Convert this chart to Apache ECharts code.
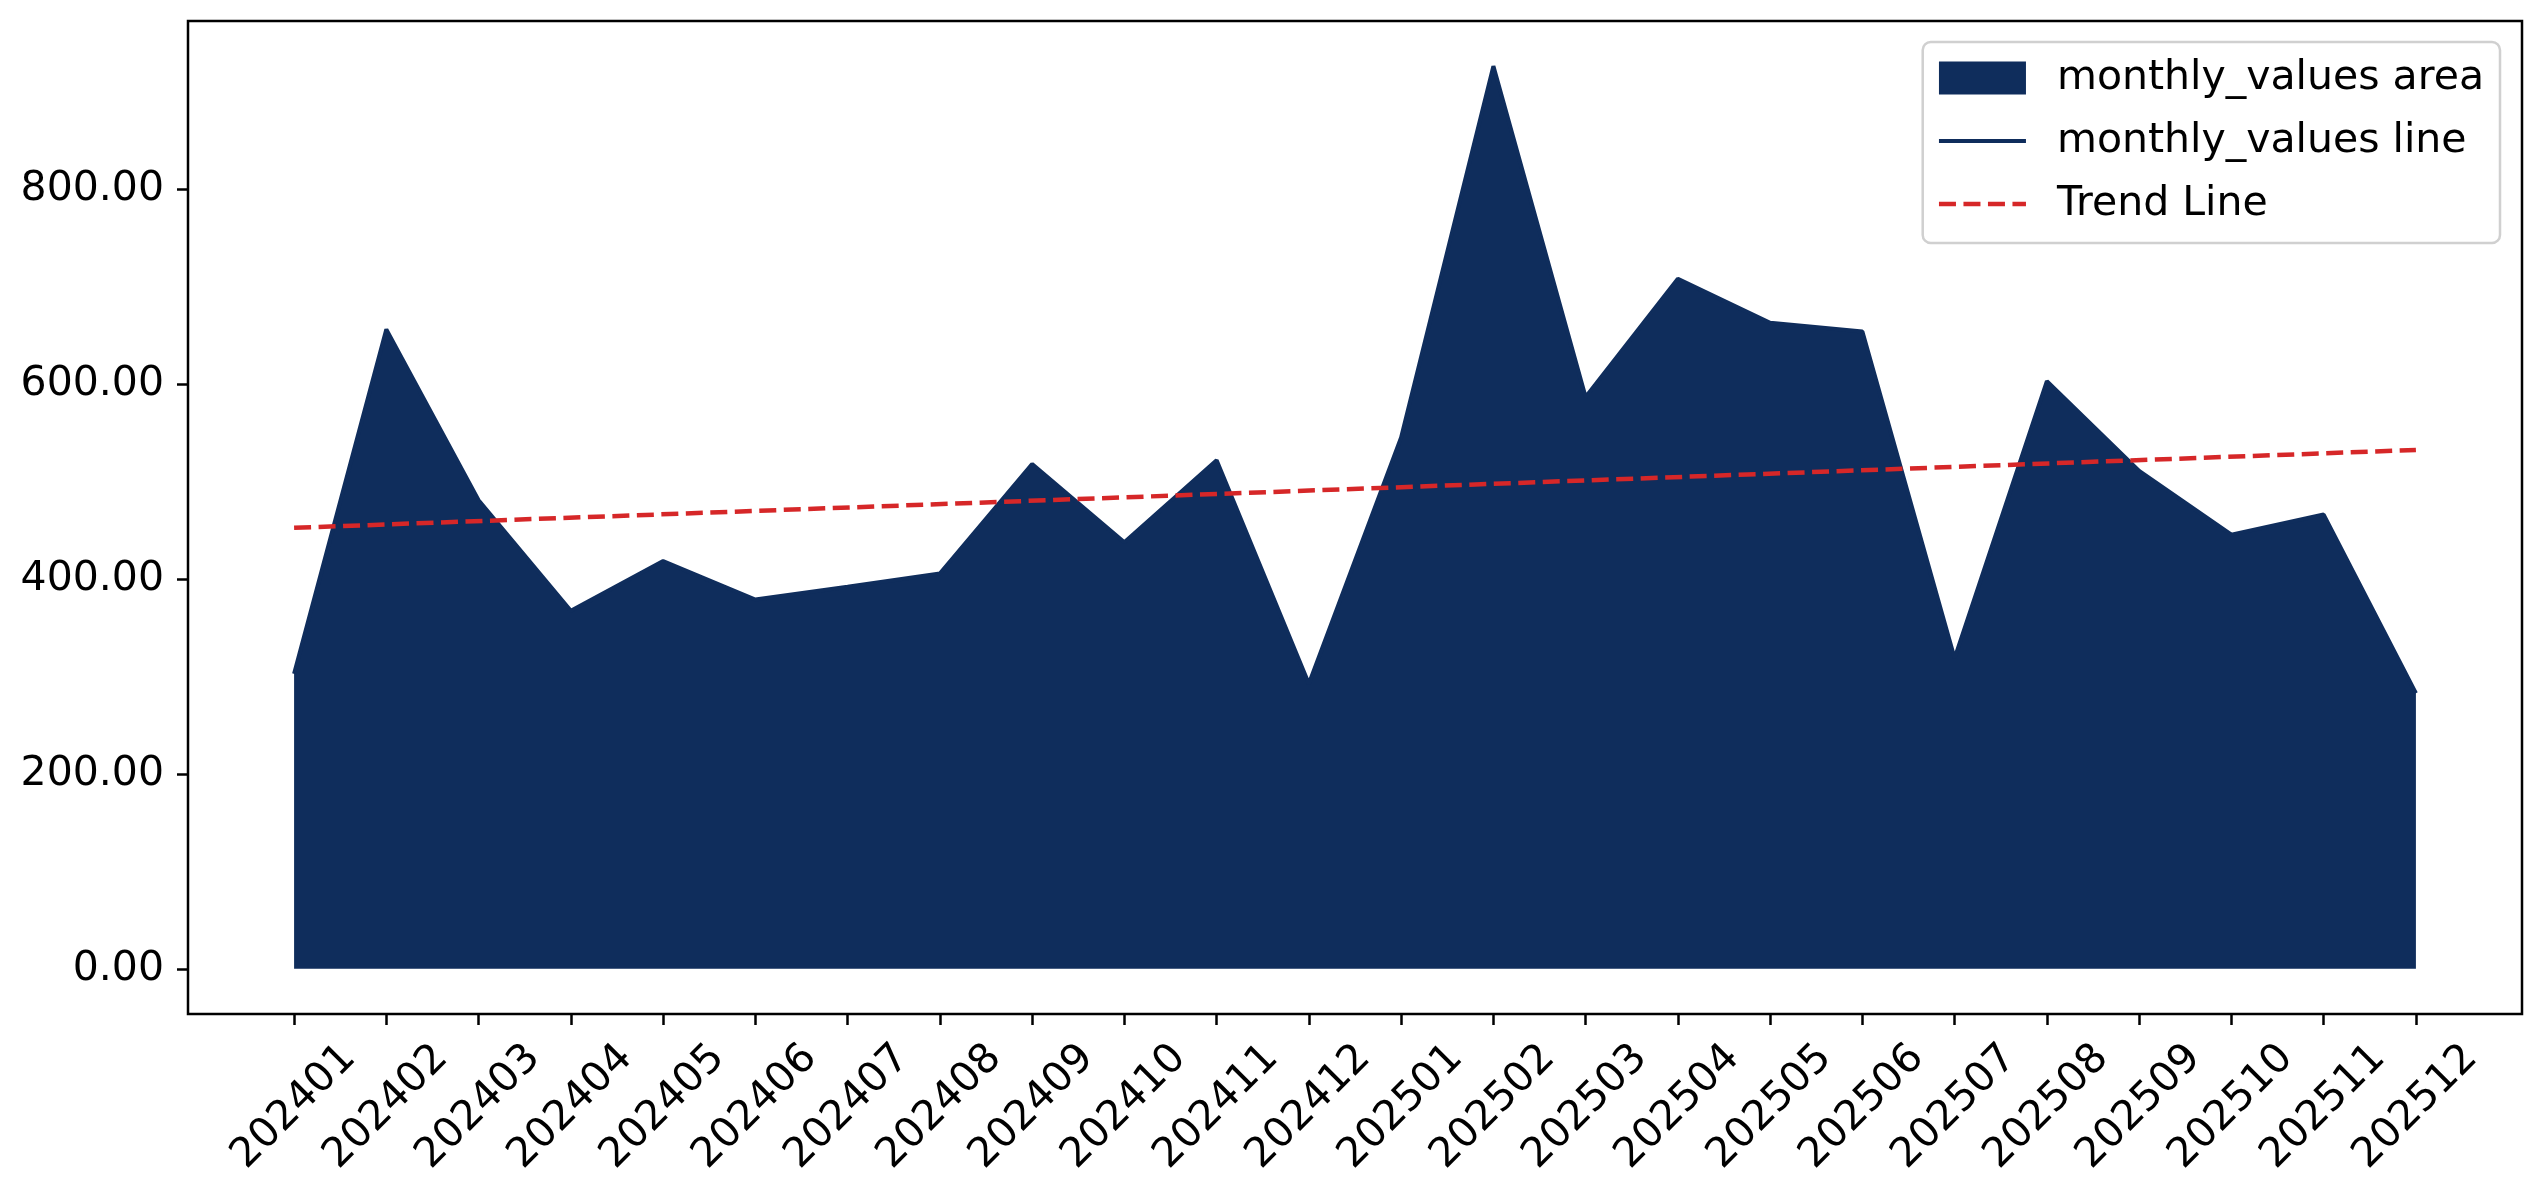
<!DOCTYPE html>
<html>
<head>
<meta charset="utf-8">
<script src="https://cdn.jsdelivr.net/npm/echarts@6/dist/echarts.min.js"></script>
<style>
  html, body { margin: 0; padding: 0; background: #fff; }
  #chart { width: 2542px; height: 1199px; }
</style>
</head>
<body>
<div id="chart"></div>
<script>
const months = ['202401','202402','202403','202404','202405','202406','202407','202408','202409','202410','202411','202412',
  '202501','202502','202503','202504','202505','202506','202507','202508','202509','202510','202511','202512']
const monthlyValues = [302.6, 656.0, 480.7, 367.4, 418.3, 378.9, 392.0, 405.5, 517.9, 437.6, 521.8, 292.4,
  545.2, 926.0, 586.5, 707.8, 662.7, 653.7, 318.7, 602.9, 510.7, 445.4, 466.0, 282.7]
// trend line read at first and last month
const trendEnds = [452.4, 532.3]
const yTicks = [0, 200, 400, 600, 800]

const navy = '#0f2d5c'
const red = '#d62728'
const font = 'DejaVu Sans'
const fs = 41

const xIdx = months.map((m, i) => i)
const valuePts = monthlyValues.map((v, i) => [i, v])
const trendPts = [[0, trendEnds[0]], [months.length - 1, trendEnds[1]]]

const chart = echarts.init(document.getElementById('chart'))
chart.setOption({
  animation: false,
  textStyle: { fontFamily: font },
  grid: {
    left: 188, right: 20, top: 21, bottom: 185,
    show: true, borderColor: '#000', borderWidth: 2.5, backgroundColor: 'transparent'
  },
  legend: {
    orient: 'vertical',
    right: 42, top: 42,
    padding: [13, 16, 16, 14],
    itemWidth: 87, itemHeight: 33, itemGap: 17,
    borderColor: '#d0d0d0', borderWidth: 2.5, borderRadius: 8,
    textStyle: { fontFamily: font, fontSize: fs, color: '#000', lineHeight: 46, padding: [0, 0, 0, 26] },
    data: [
      { name: 'monthly_values area', icon: 'rect' },
      { name: 'monthly_values line', itemStyle: { opacity: 0 }, lineStyle: { width: 4 } },
      { name: 'Trend Line', itemStyle: { opacity: 0 }, lineStyle: { width: 4.5 } }
    ]
  },
  xAxis: {
    type: 'value',
    min: -1.15, max: 24.15,
    axisLine: { show: false, onZero: false },
    splitLine: { show: false },
    axisTick: { show: true, length: 11, lineStyle: { color: '#000', width: 2.5 }, customValues: xIdx },
    axisLabel: {
      customValues: xIdx,
      formatter: v => months[Math.round(v)],
      rotate: 45, align: 'center', verticalAlign: 'middle', margin: 93,
      fontFamily: font, fontSize: fs, color: '#000'
    }
  },
  yAxis: {
    type: 'value',
    min: -46.3, max: 972.3,
    axisLine: { show: false, onZero: false },
    splitLine: { show: false },
    axisTick: { show: true, length: 11, lineStyle: { color: '#000', width: 2.5 }, customValues: yTicks },
    axisLabel: {
      customValues: yTicks,
      formatter: v => v.toFixed(2),
      margin: 24, fontFamily: font, fontSize: fs, color: '#000'
    }
  },
  series: [
    {
      name: 'monthly_values area', type: 'line', data: valuePts,
      symbol: 'none', color: navy,
      lineStyle: { width: 0 },
      areaStyle: { color: navy, opacity: 1 }
    },
    {
      name: 'monthly_values line', type: 'line', data: valuePts,
      symbol: 'none', color: navy,
      lineStyle: { width: 4, color: navy }
    },
    {
      name: 'Trend Line', type: 'line', data: trendPts,
      symbol: 'none', color: red,
      lineStyle: { width: 4.5, color: red, type: [17, 7.5] }
    }
  ]
})
window.addEventListener('resize', () => chart.resize())
</script>
</body>
</html>
